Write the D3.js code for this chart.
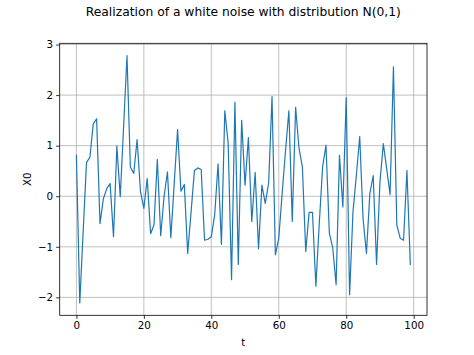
<!DOCTYPE html>
<html><head><meta charset="utf-8">
<script src="https://cdn.jsdelivr.net/npm/d3@7"></script>
<style>body{margin:0;background:#fff}svg{display:block}</style>
</head><body>
<script>
const title = "Realization of a white noise with distribution N(0,1)";
const xLabel = "t";
const yLabel = "X0";
const xTicks = [0, 20, 40, 60, 80, 100];
const yTicks = [-2, -1, 0, 1, 2, 3];
const values = [
  0.81, -2.11, -0.70, 0.67, 0.77, 1.43, 1.53, -0.54, -0.05, 0.15,
  0.25, -0.80, 0.99, -0.01, 1.38, 2.78, 0.58, 0.45, 1.12, 0.09,
  -0.24, 0.35, -0.74, -0.57, 0.73, -0.78, 0.00, 0.48, -0.82, 0.25,
  1.32, 0.10, 0.23, -1.13, -0.31, 0.51, 0.56, 0.53, -0.87, -0.85,
  -0.80, -0.37, 0.64, -0.95, 1.69, 1.05, -1.65, 1.86, -1.35, 1.50,
  0.22, 1.16, -0.50, 0.47, -1.04, 0.22, -0.14, 0.26, 1.97, -1.16,
  -0.83, 0.05, 0.90, 1.69, -0.50, 1.76, 0.95, 0.58, -1.09, -0.32,
  -0.32, -1.78, -0.55, 0.58, 1.01, -0.73, -1.02, -1.75, 0.81, -0.21,
  1.95, -1.95, -0.31, 0.41, 1.18, -0.45, -1.13, 0.05, 0.41, -1.35,
  0.28, 1.04, 0.54, 0.03, 2.56, -0.57, -0.83, -0.87, 0.51, -1.35
];
const times = values.map((v, i) => i);

const W = 474, H = 355;
const m = {left: 59.7, right: 427, top: 43.3, bottom: 315.3};
const svg = d3.select("body").append("svg").attr("width", W).attr("height", H);

const xmin = d3.min(times), xmax = d3.max(times);
const xm = (xmax - xmin) * 0.05;
const ymin = d3.min(values), ymax = d3.max(values);
const ym = (ymax - ymin) * 0.05;
const x = d3.scaleLinear().domain([xmin - xm, xmax + xm]).range([m.left, m.right]);
const y = d3.scaleLinear().domain([ymin - ym, ymax + ym]).range([m.bottom, m.top]);

const font = "DejaVu Sans, sans-serif";
const fmt = d => d < 0 ? "\u2212" + Math.abs(d) : String(d);

// grid
const g = svg.append("g");
g.selectAll(".gx").data(xTicks).join("line")
  .attr("x1", d => x(d)).attr("x2", d => x(d)).attr("y1", m.top).attr("y2", m.bottom)
  .attr("stroke", "#b0b0b0").attr("stroke-width", 0.8);
g.selectAll(".gy").data(yTicks).join("line")
  .attr("y1", d => y(d)).attr("y2", d => y(d)).attr("x1", m.left).attr("x2", m.right)
  .attr("stroke", "#b0b0b0").attr("stroke-width", 0.8);

// line
svg.append("path").datum(values)
  .attr("fill", "none").attr("stroke", "#1f77b4").attr("stroke-width", 1.2)
  .attr("stroke-linejoin", "round").attr("stroke-linecap", "square")
  .attr("d", d3.line().x((d, i) => x(times[i])).y(d => y(d)));

// axes
const xAxis = d3.axisBottom(x).tickValues(xTicks).tickFormat(fmt).tickSize(3.6).tickPadding(3);
const yAxis = d3.axisLeft(y).tickValues(yTicks).tickFormat(fmt).tickSize(3.6).tickPadding(3);
const ax = svg.append("g").attr("transform", `translate(0,${m.bottom})`).call(xAxis);
const ay = svg.append("g").attr("transform", `translate(${m.left},0)`).call(yAxis);
[ax, ay].forEach(a => {
  a.select(".domain").remove();
  a.selectAll("text").attr("font-family", font).attr("font-size", 10.3).attr("fill", "#000");
  a.selectAll("line").attr("stroke", "#000").attr("stroke-width", 0.8);
});

svg.append("rect").attr("x", m.left).attr("y", m.top)
  .attr("width", m.right - m.left).attr("height", m.bottom - m.top)
  .attr("fill", "none").attr("stroke", "#000").attr("stroke-width", 0.8);

svg.append("text").attr("x", (m.left + m.right) / 2).attr("y", 16)
  .attr("text-anchor", "middle").attr("font-family", font).attr("font-size", 12.3).text(title);
svg.append("text").attr("x", (m.left + m.right) / 2).attr("y", 345.5)
  .attr("text-anchor", "middle").attr("font-family", font).attr("font-size", 10.3).text(xLabel);
svg.append("text").attr("transform", `translate(31,${(m.top + m.bottom) / 2}) rotate(-90)`)
  .attr("text-anchor", "middle").attr("font-family", font).attr("font-size", 10.3).text(yLabel);
</script>
</body></html>
